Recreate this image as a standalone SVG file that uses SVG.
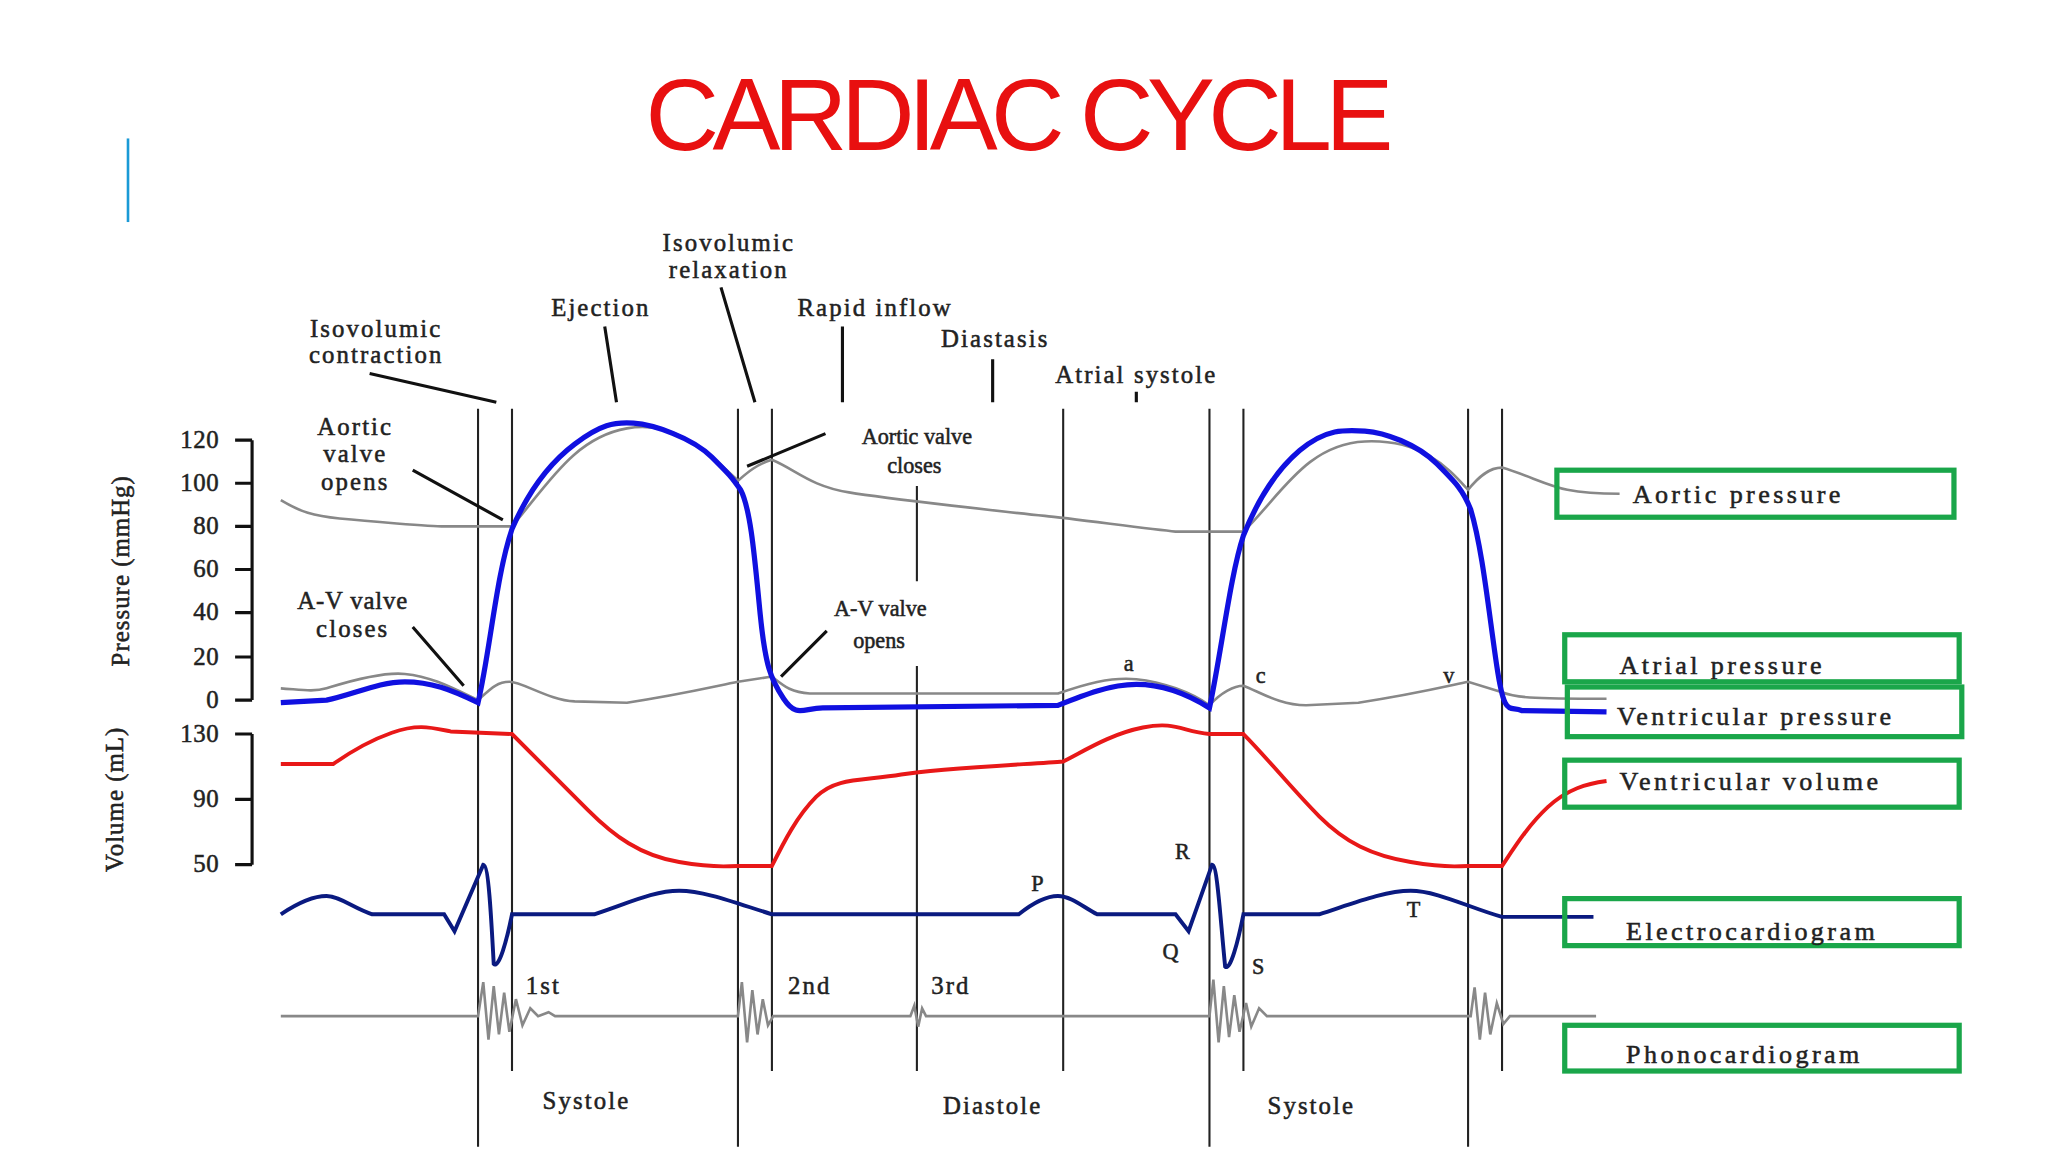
<svg xmlns="http://www.w3.org/2000/svg" width="2048" height="1152" viewBox="0 0 2048 1152">
<style>
.t{font-family:"Liberation Serif",serif;font-size:19px;fill:#222;stroke:#222;stroke-width:0.4;letter-spacing:1.6px}
.s{font-size:17px}
.m{text-anchor:middle}
.b{font-size:20px;letter-spacing:2.6px}
.v{stroke:#222;stroke-width:1.6;fill:none}
.p{stroke:#111;stroke-width:2.4;fill:none}
.box{fill:none;stroke:#1aa64a;stroke-width:4}
.gr{fill:none;stroke:#888;stroke-width:2}
</style>
<rect width="2048" height="1152" fill="#fff"/>
<g transform="scale(1.30612)">
<text id="title" x="778" y="115" text-anchor="middle" font-family="Liberation Sans,Arial,sans-serif" font-size="78" fill="#e81010" letter-spacing="-5">CARDIAC CYCLE</text>
<line x1="98" y1="106" x2="98" y2="170" stroke="#1a9ad6" stroke-width="2"/>
<g id="gridlines">
<path class="v" d="M366 313V878M392 313V820M565 313V878M591 313V820M702 372V445M702 510V820M814 313V820M926 313V878M952 313V820M1124 313V878M1150 313V820"/>
</g>
<g id="axes" class="t">
<path class="p" d="M193 337V536M180 337H193M180 370H193M180 403H193M180 436H193M180 469H193M180 503H193M180 536H193M193 562V662M180 562H193M180 612H193M180 662H193"/>
<g text-anchor="end" letter-spacing="0.5"><text x="168" y="343">120</text><text x="168" y="376">100</text><text x="168" y="409">80</text><text x="168" y="442">60</text><text x="168" y="475">40</text><text x="168" y="509">20</text><text x="168" y="542">0</text><text x="168" y="568">130</text><text x="168" y="618">90</text><text x="168" y="668">50</text></g>
<text transform="translate(99,437) rotate(-90)" class="m" letter-spacing="0.8">Pressure (mmHg)</text>
<text transform="translate(94,612) rotate(-90)" class="m" letter-spacing="0.8">Volume (mL)</text>
</g>
<g id="connectors">
<path class="gr" d="M215 383C230 392 240 395 260 397S330 403 340 403L392 403C420 370 440 335 480 328S545 350 565 368C572 362 580 355 591 352C610 360 620 372 650 377S780 393 800 395S880 405 900 407L952 407C980 380 1000 340 1045 338S1110 360 1124 375C1132 365 1140 358 1150 358C1170 364 1185 372 1200 375S1230 378 1240 378"/>
<path class="gr" d="M215 527C230 528 240 530 250 527S290 514 310 516S345 526 366 536C375 528 380 522 390 522S420 536 440 537L480 538C520 532 545 526 565 522L591 518C600 525 605 530 620 531L810 531C830 524 850 518 870 520S912 530 926 540C935 530 945 525 952 525C965 530 980 540 1000 540L1040 538C1080 532 1105 526 1124 522L1150 530C1160 534 1170 535 1230 535"/>
<path fill="none" stroke="#1010e0" stroke-width="4" d="M215 538L250 536C270 532 290 522 310 522S345 528 366 538C375 500 380 440 392 405C405 375 420 355 440 340S470 323 485 324S530 335 545 350S560 365 567 375C575 390 578 430 582 470S590 520 600 535S615 542 630 542L810 540C830 532 850 524 870 524S910 532 926 542C935 500 942 440 952 410C962 385 975 362 995 345S1030 329 1045 330S1085 340 1100 355S1120 375 1126 390C1135 420 1140 470 1146 510S1155 540 1165 544L1230 545"/>
<path fill="none" stroke="#e81818" stroke-width="3" d="M215 585L255 585C265 578 280 568 300 561S330 557 345 560L392 562C410 580 430 600 450 620S490 655 520 660S555 663 565 663L591 663C600 645 610 625 625 610S660 598 690 593S790 585 814 583C830 575 850 562 875 557S905 560 926 562L952 562C970 580 990 605 1010 625S1050 655 1080 660S1115 663 1124 663L1150 663C1160 648 1170 632 1185 618S1215 600 1230 598"/>
<path fill="none" stroke="#0a1a80" stroke-width="3" d="M215 700C230 690 240 686 250 686S270 695 285 700L340 700L348 713L370 662C374 662 376 700 378 738C382 742 388 720 392 700L455 700C480 692 500 682 520 682S565 692 591 700L780 700C790 692 800 686 810 686S830 695 840 700L900 700L910 713L928 662C932 662 934 700 938 740C942 744 948 720 952 700L1010 700C1035 692 1060 682 1080 682S1125 695 1150 702L1220 702"/>
<path class="gr" stroke-width="1.6" d="M215 778H366L370 752L374 796L378 755L382 792L386 760L390 790L395 765L400 785L406 772L412 778L420 775L425 778H565L568 752L572 798L576 758L580 792L584 765L588 785L592 778H697L700 770L703 786L706 772L709 778H926L929 750L933 798L937 755L941 794L945 762L949 790L954 768L958 786L964 772L970 778H1126L1129 756L1133 796L1137 760L1141 792L1146 768L1151 784L1156 778H1222"/>
<path class="p" stroke-width="2" d="M283 286L380 308M463 250L472 308M552 220L578 308M645 250V308M760 275V308M870 300V308M316 360L385 398M632 332L572 357M316 480L355 525M633 483L598 518"/>
</g>
<g id="labels" class="t">
<text x="288" y="258" class="m">Isovolumic</text><text x="288" y="278" class="m">contraction</text>
<text x="460" y="242" class="m">Ejection</text>
<text x="558" y="192" class="m">Isovolumic</text><text x="558" y="213" class="m">relaxation</text>
<text x="670" y="242" class="m">Rapid inflow</text>
<text x="762" y="266" class="m">Diastasis</text>
<text x="870" y="293" class="m">Atrial systole</text>
<text x="272" y="333" class="m">Aortic</text><text x="272" y="354" class="m">valve</text><text x="272" y="375" class="m">opens</text>
<text x="702" y="340" class="m s" letter-spacing="0">Aortic valve</text><text x="700" y="362" class="m s" letter-spacing="0">closes</text>
<text x="270" y="466" class="m" letter-spacing="0.6">A-V valve</text><text x="270" y="488" class="m">closes</text>
<text x="674" y="472" class="m s" letter-spacing="0">A-V valve</text><text x="673" y="496" class="m s" letter-spacing="0">opens</text>
<text x="865" y="514" class="m s">a</text><text x="966" y="523" class="m s">c</text><text x="1110" y="523" class="m s">v</text>
<text x="795" y="682" class="m s">P</text><text x="906" y="658" class="m s">R</text><text x="897" y="734" class="m s">Q</text><text x="964" y="746" class="m s">S</text><text x="1083" y="702" class="m s">T</text>
<text x="416" y="761" class="m">1st</text><text x="620" y="761" class="m">2nd</text><text x="728" y="761" class="m">3rd</text>
<text x="449" y="849" class="m">Systole</text><text x="760" y="853" class="m">Diastole</text><text x="1004" y="853" class="m">Systole</text>
</g>
<g id="legend-aortic"><rect class="box" x="1192" y="360" width="304" height="36"/><text class="t b" x="1250" y="385">Aortic pressure</text></g>
<g id="legend-atrial"><rect class="box" x="1198" y="486" width="302" height="36"/><text class="t b" x="1240" y="516">Atrial pressure</text></g>
<g id="legend-vp"><rect class="box" x="1200" y="526" width="302" height="38"/><text class="t b" x="1238" y="555">Ventricular pressure</text></g>
<g id="legend-vv"><rect class="box" x="1198" y="582" width="302" height="36"/><text class="t b" x="1240" y="605">Ventricular volume</text></g>
<g id="legend-ecg"><rect class="box" x="1198" y="688" width="302" height="36"/><text class="t b" x="1245" y="720">Electrocardiogram</text></g>
<g id="legend-phono"><rect class="box" x="1198" y="785" width="302" height="35"/><text class="t b" x="1245" y="814">Phonocardiogram</text></g>
</g>
</svg>
